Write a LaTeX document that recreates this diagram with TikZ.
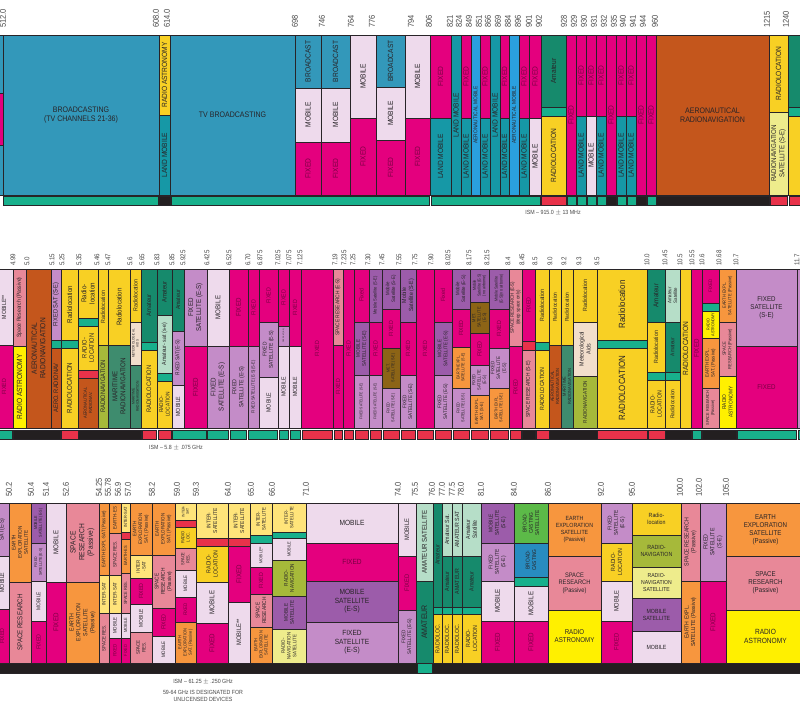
\documentclass[tikz,border=0pt]{standalone}
\usepackage{fontspec}
\setmainfont{Liberation Sans}[FakeStretch=0.88]
\usepackage{tikz}
\definecolor{mydark}{RGB}{40,36,40}
\definecolor{freqgrey}{RGB}{70,70,70}
\definecolor{bcast}{RGB}{51,152,186}
\definecolor{bcastb}{RGB}{40,140,192}
\definecolor{landmob}{RGB}{22,152,166}
\definecolor{aeromob}{RGB}{42,160,222}
\definecolor{fixedc}{RGB}{228,0,126}
\definecolor{fixtext}{RGB}{120,0,66}
\definecolor{mobc}{RGB}{238,218,236}
\definecolor{amateur}{RGB}{22,138,108}
\definecolor{amsat}{RGB}{182,222,200}
\definecolor{radloc}{RGB}{248,208,36}
\definecolor{radastro}{RGB}{255,240,0}
\definecolor{aeronav}{RGB}{196,86,28}
\definecolor{rnsat}{RGB}{238,236,140}
\definecolor{radnav}{RGB}{166,185,58}
\definecolor{marnav}{RGB}{62,140,110}
\definecolor{metaid}{RGB}{242,222,204}
\definecolor{metsat}{RGB}{140,100,22}
\definecolor{fixsat}{RGB}{196,140,200}
\definecolor{mobsat}{RGB}{156,92,170}
\definecolor{spres}{RGB}{232,136,152}
\definecolor{eexp}{RGB}{247,150,62}
\definecolor{intsat}{RGB}{255,228,122}
\definecolor{bsat}{RGB}{92,186,72}
\definecolor{tealbar}{RGB}{24,176,140}
\definecolor{redbar}{RGB}{232,50,74}
\definecolor{blackbar}{RGB}{35,31,32}
\tikzset{
  cell/.style={draw=mydark, line width=0.6pt},
  fs/.style={font=\fontsize{#1}{\fpeval{#1*1.15}}\selectfont},
  vtext/.style={rotate=90, align=center, inner sep=0pt, text=mydark},
  htext/.style={align=center, inner sep=0pt, text=mydark},
  fxt/.style={text=fixtext},
  freq/.style={rotate=90, anchor=west, inner sep=0pt, text=freqgrey},
  ism/.style={inner sep=0pt, text=freqgrey, fs=6, align=center},
  seg/.style={draw=mydark, line width=0.5pt}
}
% cells: x1 y1 x2 y2 colour text
\newcommand{\bandv}[7][]{\draw[cell,fill=#6] (#2,#3) rectangle (#4,#5);
  \node[vtext,#1] at ({(#2+#4)/2},{(#3+#5)/2}) {#7};}
\newcommand{\bandh}[7][]{\draw[cell,fill=#6] (#2,#3) rectangle (#4,#5);
  \node[htext,#1] at ({(#2+#4)/2},{(#3+#5)/2}) {#7};}
\newcommand{\bandbar}[5]{\draw[cell,fill=#5] (#1,#2) rectangle (#3,#4);}
\newcommand{\bandfix}[5][]{\bandv[fxt,#1]{#2}{#3}{#4}{#5}{fixedc}{FIXED}}
\newcommand{\bandlm}[5][]{\bandv[#1]{#2}{#3}{#4}{#5}{landmob}{LAND MOBILE}}
\newcommand{\bandmob}[5][]{\bandv[#1]{#2}{#3}{#4}{#5}{mobc}{MOBILE}}

\begin{document}
\begin{tikzpicture}[x=1pt, y=-1pt]
  \useasboundingbox (0,0) rectangle (800,704);

  % Band 1
  \begin{scope}[fs=7.5]
  \bandbar{-5}{35}{3}{93}{bcast}
  \bandbar{-5}{93}{3}{145}{fixedc}
  \bandbar{-5}{145}{3}{195}{bcast}
  \bandh[fs=8]{3}{35}{159}{195}{bcast}{BROADCASTING\\(TV CHANNELS 21-36)}
  \bandv{159}{35}{170}{115}{radloc}{RADIO ASTRONOMY}
  \bandlm{159}{115}{170}{195}
  \bandh[fs=8]{170}{35}{295}{195}{bcast}{TV BROADCASTING}
  \bandv{295}{35}{321}{88}{bcast}{BROADCAST}
  \bandmob{295}{88}{321}{142}
  \bandfix{295}{142}{321}{195}
  \bandv{321}{35}{350}{88}{bcast}{BROADCAST}
  \bandmob{321}{88}{350}{142}
  \bandfix{321}{142}{350}{195}
  \bandmob{350}{35}{376}{118}
  \bandfix{350}{118}{376}{195}
  \bandv{376}{35}{405}{87}{bcast}{BROADCAST}
  \bandmob{376}{87}{405}{140}
  \bandfix{376}{140}{405}{195}
  \bandmob{405}{35}{430}{118}
  \bandfix{405}{118}{430}{195}
  \bandfix{430}{35}{451}{118}
  \bandlm{430}{118}{451}{195}
  \bandlm{451}{35}{461}{195}
  \bandfix{461}{35}{471}{118}
  \bandlm{461}{118}{471}{195}
  \bandv[fs=5.5]{471}{35}{480}{195}{aeromob}{AERONAUTICAL MOBILE}
  \bandfix{480}{35}{490}{118}
  \bandlm{480}{118}{490}{195}
  \bandlm{490}{35}{500}{195}
  \bandfix{500}{35}{509}{118}
  \bandlm{500}{118}{509}{195}
  \bandv[fs=5.5]{509}{35}{519}{195}{aeromob}{AERONAUTICAL MOBILE}
  \bandfix{519}{35}{529}{118}
  \bandlm{519}{118}{529}{195}
  \bandfix{529}{35}{541}{118}
  \bandmob{529}{118}{541}{195}
  \bandv{541}{35}{566}{107}{amateur}{Amateur}
  \bandbar{541}{107}{566}{116}{tealbar}
  \bandv{541}{116}{566}{195}{radloc}{RADIOLOCATION}
  \bandfix{566}{35}{576}{195}
  \bandfix{576}{35}{586}{116}
  \bandlm{576}{116}{586}{195}
  \bandfix{586}{35}{596}{116}
  \bandmob{586}{116}{596}{195}
  \bandfix{596}{35}{606}{116}
  \bandlm{596}{116}{606}{195}
  \bandfix{606}{35}{616}{195}
  \bandfix{616}{35}{626}{116}
  \bandlm{616}{116}{626}{195}
  \bandfix{626}{35}{636}{116}
  \bandlm{626}{116}{636}{195}
  \bandfix{636}{35}{646}{195}
  \bandfix{646}{35}{656}{195}
  \bandh[fs=8]{656}{35}{769}{195}{aeronav}{AERONAUTICAL\\RADIONAVIGATION}
  \bandv{769}{35}{788}{112}{radloc}{RADIOLOCATION}
  \bandv[fs=7]{769}{112}{788}{195}{rnsat}{RADIONAVIGATION\\SATELLITE (S-E)}
  \bandbar{788}{35}{805}{107}{amateur}
  \bandbar{788}{107}{805}{116}{tealbar}
  \bandbar{788}{116}{805}{195}{radloc}
  \end{scope}

  % Band 2
  \begin{scope}[fs=6]
  \bandv{-5}{269}{13}{345}{mobc}{MOBILE**}
  \bandfix{-5}{345}{13}{428}
  \bandv[fs=5.8]{13}{269}{26}{346}{spres}{Space Research (Passive)}
  \bandv[fs=7.5]{13}{346}{26}{428}{radastro}{RADIO ASTRONOMY}
  \bandv[fs=7.5]{26}{269}{51}{428}{aeronav}{AERONAUTICAL\\RADIONAVIGATION}
  \bandv[fs=6.5]{51}{269}{61}{340}{fixsat}{FIXED SAT (S-E)}
  \bandbar{51}{340}{61}{348}{tealbar}
  \bandv[fs=6.5]{51}{348}{61}{428}{aeronav}{AERO. RADIONAV}
  \bandv[fs=7]{61}{269}{78}{340}{radloc}{Radiolocation}
  \bandbar{61}{340}{78}{348}{tealbar}
  \bandv[fs=7]{61}{348}{78}{428}{radloc}{RADIOLOCATION}
  \bandv[fs=7]{78}{269}{98}{318}{radloc}{Radio-\\location}
  \bandbar{78}{318}{98}{326}{tealbar}
  \bandv[fs=6.5]{78}{326}{98}{370}{radloc}{RADIO-\\LOCATION}
  \bandbar{78}{370}{98}{378}{redbar}
  \bandv[fs=4.5]{78}{378}{98}{428}{aeronav}{AERONAUTICAL\\RADIONAV.}
  \bandv{98}{269}{108}{345}{radloc}{Radiolocation}
  \bandv[fs=6.5]{98}{345}{108}{428}{radnav}{RADIONAVIGATION}
  \bandv[fs=7]{108}{269}{130}{345}{radloc}{Radiolocation}
  \bandv[fs=7]{108}{345}{130}{428}{marnav}{MARITIME\\RADIONAVIGATION}
  \bandv{130}{269}{141}{322}{radloc}{Radiolocation}
  \bandv[fs=3.5]{130}{322}{141}{365}{metaid}{METEOROLOGICAL\\AIDS}
  \bandv[fs=3.8]{130}{365}{141}{428}{marnav}{MARITIME\\RADIONAVIGATION}
  \bandv[fs=6.5]{141}{269}{157}{342}{amateur}{Amateur}
  \bandbar{141}{342}{157}{350}{tealbar}
  \bandv[fs=6.5]{141}{350}{157}{428}{radloc}{RADIOLOCATION}
  \bandv[fs=6.5]{157}{269}{172}{315}{amateur}{Amateur}
  \bandv{157}{315}{172}{373}{amsat}{Amateur- sat (s-e)}
  \bandbar{157}{373}{172}{381}{tealbar}
  \bandv[fs=5.5]{157}{381}{172}{428}{radloc}{RADIO-\\LOCATION}
  \bandv{172}{269}{184}{331}{amateur}{Amateur}
  \bandv[fs=5.5]{172}{331}{184}{385}{fixsat}{FIXED SAT(E-S)}
  \bandmob{172}{385}{184}{428}
  \bandv[fs=7]{184}{269}{207}{346}{fixsat}{FIXED\\SATELLITE (E-S)}
  \bandfix[fs=7]{184}{346}{207}{428}
  \bandmob[fs=7]{207}{269}{229}{346}
  \bandv[fs=7]{207}{346}{229}{428}{fixsat}{FIXED\\SATELLITE (E-S)}
  \bandfix[fs=7]{229}{269}{248}{346}
  \bandv[fs=6]{229}{346}{248}{428}{fixsat}{FIXED\\SATELLITE (E-S)}
  \bandfix{248}{269}{259}{346}
  \bandv[fs=4.5]{248}{346}{259}{428}{fixsat}{FIXED SATELLITE (E-S)(S-E)}
  \bandfix{259}{269}{278}{322}
  \bandv[fs=5.5]{259}{322}{278}{377}{fixsat}{FIXED\\SATELLITE (E-S)}
  \bandmob{259}{377}{278}{428}
  \bandfix{278}{269}{289}{326}
  \bandv[fs=2]{278}{326}{289}{346}{fixsat}{FIXED SAT (E-S)}
  \bandmob{278}{346}{289}{428}
  \bandfix{289}{269}{301}{346}
  \bandmob{289}{346}{301}{428}
  \bandfix{301}{269}{333}{428}
  \bandv[fs=5.5]{333}{269}{343}{345}{spres}{SPACE RESEARCH (E-S)}
  \bandfix{333}{345}{343}{428}
  \bandfix{343}{269}{354}{428}
  \bandv[fxt]{354}{269}{369}{322}{fixedc}{Fixed}
  \bandv[fs=5.2]{354}{322}{369}{375}{mobsat}{MOBILE\\SATELLITE (S-E)}
  \bandv[fs=3.8]{354}{375}{369}{428}{fixsat}{FIXED SATELLITE (S-E)}
  \bandv[fs=4.6]{369}{269}{382}{322}{mobsat}{Mobile Satellite (S-E)}
  \bandfix{369}{322}{382}{375}
  \bandv[fs=3.8]{369}{375}{382}{428}{fixsat}{FIXED SATELLITE (S-E)}
  \bandv[fs=5]{382}{269}{400}{309}{mobsat}{Mobile\\Satellite (S-E)}
  \bandfix{382}{309}{400}{348}
  \bandv[fs=4.2]{382}{348}{400}{388}{metsat}{MET.\\SATELLITE (S-E)}
  \bandv[fs=4.2]{382}{388}{400}{428}{fixsat}{FIXED\\SATELLITE (S-E)}
  \bandv{400}{269}{416}{322}{mobsat}{Mobile\\Satellite (S-E)}
  \bandfix{400}{322}{416}{375}
  \bandv[fs=5.2]{400}{375}{416}{428}{fixsat}{FIXED\\SATELLITE (S-E)}
  \bandfix{416}{269}{434}{428}
  \bandv[fxt]{434}{269}{452}{322}{fixedc}{Fixed}
  \bandv[fs=5.2]{434}{322}{452}{375}{mobsat}{MOBILE\\SATELLITE (E-S)}
  \bandv[fs=5.2]{434}{375}{452}{428}{fixsat}{FIXED\\SATELLITE (E-S)}
  \bandv[fs=5]{452}{269}{470}{309}{mobsat}{Mobile\\Satellite (E-S)}
  \bandfix{452}{309}{470}{347}
  \bandv[fs=4.2]{452}{347}{470}{388}{eexp}{EARTH EXPL.\\SATELLITE (S-E)}
  \bandv[fs=4.2]{452}{388}{470}{428}{fixsat}{FIXED\\SATELLITE (E-S)}
  \bandv[fs=4.2]{470}{269}{489}{302}{mobsat}{Mobile\\Satellite (E-S)\\(no airborne)}
  \bandv[fs=4.5]{470}{302}{489}{333}{metsat}{MET.\\SATELLITE\\(E-S)}
  \bandfix{470}{333}{489}{365}
  \bandv[fs=4.5]{470}{365}{489}{395}{fixsat}{FIXED\\SATELLITE\\(E-S)}
  \bandv[fs=4.5]{470}{395}{489}{428}{eexp}{EARTH EXPL.\\SAT. (S-E)}
  \bandv[fs=4.2]{489}{269}{509}{309}{mobsat}{Mobile Satellite\\(E-S)(no airborne)}
  \bandfix{489}{309}{509}{348}
  \bandv[fs=5]{489}{348}{509}{388}{fixsat}{FIXED\\SATELLITE\\(E-S)}
  \bandv[fs=4.2]{489}{388}{509}{428}{eexp}{EARTH EXPL.\\SATELLITE (S-E)}
  \bandv[fs=5]{509}{269}{522}{346}{spres}{SPACE RESEARCH (E-S)\\(deep space only)}
  \bandfix{509}{346}{522}{428}
  \bandfix{522}{269}{535}{341}
  \bandbar{522}{341}{535}{350}{redbar}
  \bandv[fs=5.5]{522}{350}{535}{428}{spres}{SPACE RESEARCH (S-E)}
  \bandv{535}{269}{549}{342}{radloc}{Radiolocation}
  \bandbar{535}{342}{549}{350}{tealbar}
  \bandv{535}{350}{549}{428}{radloc}{RADIOLOCATION}
  \bandv[fs=5.5]{549}{269}{561}{345}{radloc}{Radiolocation}
  \bandv[fs=4.5]{549}{345}{561}{428}{aeronav}{AERONAUTICAL\\RADIONAVIGATION}
  \bandv[fs=5.5]{561}{269}{573}{345}{radloc}{Radiolocation}
  \bandv[fs=4.5]{561}{345}{573}{428}{marnav}{MARITIME\\RADIONAVIGATION}
  \bandv{573}{269}{597}{322}{radloc}{Radiolocation}
  \bandv{573}{322}{597}{376}{metaid}{Meteorological\\Aids}
  \bandv[fs=5.2]{573}{376}{597}{428}{radnav}{RADIONAVIGATION}
  \bandv[fs=9]{597}{269}{647}{340}{radloc}{Radiolocation}
  \bandbar{597}{340}{647}{348}{tealbar}
  \bandv[fs=9]{597}{348}{647}{428}{radloc}{RADIOLOCATION}
  \bandv[fs=7]{647}{269}{665}{322}{amateur}{Amateur}
  \bandv{647}{322}{665}{372}{radloc}{Radiolocation}
  \bandbar{647}{372}{665}{380}{tealbar}
  \bandv{647}{380}{665}{428}{radloc}{RADIO-\\LOCATION}
  \bandv[fs=5]{665}{269}{680}{322}{amsat}{Amateur\\Satellite}
  \bandv[fs=5.5]{665}{322}{680}{372}{amateur}{Amateur}
  \bandbar{665}{372}{680}{380}{tealbar}
  \bandv[fs=5.5]{665}{380}{680}{428}{radloc}{Radiolocation}
  \bandv[fs=7.5]{680}{269}{691}{428}{radloc}{RADIOLOCATION}
  \bandfix[fs=7]{691}{269}{702}{428}
  \bandfix[fs=5]{702}{269}{719}{303}
  \bandbar{702}{303}{719}{311}{tealbar}
  \bandv[fs=4.2]{702}{311}{719}{338}{radastro}{RADIO\\ASTRONOMY}
  \bandv[fs=5]{702}{338}{719}{388}{eexp}{EARTH EXPL.\\SAT. (Passive)}
  \bandv[fs=4.3]{702}{388}{719}{428}{spres}{SPACE RESEARCH\\(Passive)}
  \bandv[fs=4.6]{719}{269}{736}{322}{eexp}{EARTH EXPL.\\SATELLITE (Passive)}
  \bandv[fs=4.6]{719}{322}{736}{376}{spres}{SPACE\\RESEARCH (Passive)}
  \bandv[fs=5.5]{719}{376}{736}{428}{radastro}{RADIO\\ASTRONOMY}
  \bandh[fs=7]{736}{269}{797}{346}{fixsat}{FIXED\\SATELLITE\\(S-E)}
  \bandh[fxt,fs=7]{736}{346}{797}{428}{fixedc}{FIXED}
  \bandbar{797}{269}{805}{428}{fixsat}
  \end{scope}

  % Band 3
  \begin{scope}[fs=6]
  \bandv{-5}{503}{9}{556}{fixsat}{SAT(E-S)}
  \bandmob{-5}{556}{9}{609}
  \bandfix{-5}{609}{9}{663}
  \bandv[fs=5.3]{9}{503}{31}{582}{eexp}{EARTH\\EXPLORATION\\SATELLITE}
  \bandv[fs=7]{9}{582}{31}{663}{spres}{SPACE RESEARCH}
  \bandv[fs=4.2]{31}{503}{46}{543}{mobsat}{MOBILE\\SATELLITE (E-S)}
  \bandv[fs=4]{31}{543}{46}{581}{fixsat}{FIXED\\SATELLITE (E-S)}
  \bandmob[fs=5.5]{31}{581}{46}{621}
  \bandfix{31}{621}{46}{663}
  \bandmob[fs=7]{46}{503}{66}{582}
  \bandfix[fs=7]{46}{582}{66}{663}
  \bandv[fs=7.5]{66}{503}{99}{582}{spres}{SPACE\\RESEARCH\\(Passive)}
  \bandv{66}{582}{99}{663}{eexp}{EARTH\\EXPLORATION\\SATELLITE\\(Passive)}
  \bandv[fs=5]{99}{503}{109}{575}{eexp}{EARTH EXPL-SAT (Passive)}
  \bandv[fs=5]{99}{575}{109}{613}{intsat}{INTER-SAT}
  \bandv[fs=5]{99}{613}{109}{663}{spres}{SPACE RES.}
  \bandv[fs=5]{109}{503}{121}{533}{eexp}{EARTH-ES}
  \bandv[fs=5]{109}{533}{121}{575}{spres}{SPACE RES.}
  \bandv[fs=5]{109}{575}{121}{613}{intsat}{INTER-SAT}
  \bandmob[fs=5]{109}{613}{121}{638}
  \bandfix[fs=5]{109}{638}{121}{663}
  \bandv[fs=4.5]{121}{503}{130}{532}{intsat}{INTER-SAT}
  \bandbar{121}{532}{130}{539}{redbar}
  \bandv[fs=4.5]{121}{539}{130}{573}{eexp}{EARTH-ES}
  \bandv[fs=4.5]{121}{573}{130}{613}{spres}{SPACE RES.}
  \bandmob[fs=4.5]{121}{613}{130}{638}
  \bandfix[fs=4.5]{121}{638}{130}{663}
  \bandv[fs=5]{130}{503}{152}{555}{eexp}{EARTH\\EXPLORATION\\SAT. (Passive)}
  \bandv[fs=5]{130}{555}{152}{578}{intsat}{INTER\\-SAT}
  \bandfix{130}{578}{152}{604}
  \bandmob[fs=5.5]{130}{604}{152}{632}
  \bandv[fs=5]{130}{632}{152}{663}{spres}{SPACE\\RES.}
  \bandv[fs=5]{152}{503}{175}{555}{eexp}{EARTH\\EXPLORATION\\SAT. (Passive)}
  \bandv[fs=5.5]{152}{555}{175}{608}{spres}{SPACE\\RESEARCH\\(Passive)}
  \bandfix{152}{608}{175}{636}
  \bandmob[fs=5]{152}{636}{175}{663}
  \bandv[fs=3.8]{175}{503}{196}{520}{intsat}{INTER-\\SAT}
  \bandbar{175}{520}{196}{527}{redbar}
  \bandv[fs=4.5]{175}{527}{196}{548}{radloc}{RADIO\\LOC.}
  \bandv[fs=4.5]{175}{548}{196}{570}{spres}{SPACE\\RES.}
  \bandmob[fs=5]{175}{570}{196}{597}
  \bandfix[fs=5]{175}{597}{196}{622}
  \bandv[fs=4.5]{175}{622}{196}{663}{eexp}{EARTH\\EXPLORATION\\SAT. (Passive)}
  \bandv[fs=5.5]{196}{503}{228}{538}{intsat}{INTER-\\SATELLITE}
  \bandbar{196}{538}{228}{546}{redbar}
  \bandv{196}{546}{228}{582}{radloc}{RADIO-\\LOCATION}
  \bandmob[fs=7]{196}{582}{228}{623}
  \bandfix[fs=7]{196}{623}{228}{663}
  \bandv[fs=5.5]{228}{503}{250}{538}{intsat}{INTER-\\SATELLITE}
  \bandbar{228}{538}{250}{546}{redbar}
  \bandfix[fs=7]{228}{546}{250}{602}
  \bandv[fs=6.5]{228}{602}{250}{663}{mobc}{MOBILE**}
  \bandv[fs=5]{250}{503}{272}{535}{intsat}{INTER-\\SATELLITE}
  \bandbar{250}{535}{272}{543}{tealbar}
  \bandv[fs=4.2]{250}{543}{272}{567}{mobc}{MOBILE**}
  \bandfix{250}{567}{272}{594}
  \bandv[fs=5.5]{250}{594}{272}{627}{spres}{SPACE\\RESEARCH}
  \bandv[fs=4.5]{250}{627}{272}{663}{eexp}{EARTH\\EXPLORATION\\SATELLITE}
  \bandv[fs=4.8]{272}{503}{306}{532}{intsat}{INTER-\\SATELLITE}
  \bandbar{272}{532}{306}{538}{tealbar}
  \bandmob[fs=4.5]{272}{538}{306}{560}
  \bandv[fs=5.3]{272}{560}{306}{596}{radnav}{RADIO-\\NAVIGATION}
  \bandv[fs=5.3]{272}{596}{306}{629}{mobsat}{MOBILE\\SATELLITE}
  \bandv[fs=5]{272}{629}{306}{663}{rnsat}{RADIO-\\NAVIGATION\\SATELLITE}
  \bandh[fs=7.5]{306}{503}{398}{543}{mobc}{MOBILE}
  \bandh[fxt,fs=7.5]{306}{543}{398}{581}{fixedc}{FIXED}
  \bandh[fs=7.5]{306}{581}{398}{622}{mobsat}{MOBILE\\SATELLITE\\(E-S)}
  \bandh[fs=7.5]{306}{622}{398}{663}{fixsat}{FIXED\\SATELLITE\\(E-S)}
  \bandmob[fs=6.5]{398}{503}{416}{556}
  \bandfix[fs=6.5]{398}{556}{416}{610}
  \bandv[fs=5.2]{398}{610}{416}{663}{fixsat}{FIXED\\SATELLITE (E-S)}
  \bandv[fs=7]{416}{503}{433}{581}{amsat}{AMATEUR SATELLITE}
  \bandv[fs=8]{416}{581}{433}{663}{amateur}{AMATEUR}
  \bandv{433}{503}{442}{607}{amateur}{Amateur}
  \bandbar{433}{607}{442}{614}{tealbar}
  \bandv{433}{614}{442}{663}{radloc}{RADIOLOC.}
  \bandv{442}{503}{452}{556}{amsat}{Amateur Sat.}
  \bandv{442}{556}{452}{607}{amateur}{Amateur}
  \bandbar{442}{607}{452}{614}{tealbar}
  \bandv{442}{614}{452}{663}{radloc}{RADIOLOC.}
  \bandv{452}{503}{462}{556}{amsat}{AMATEUR SAT}
  \bandv{452}{556}{462}{607}{amateur}{AMATEUR}
  \bandbar{452}{607}{462}{614}{tealbar}
  \bandv{452}{614}{462}{663}{radloc}{RADIOLOC.}
  \bandv{462}{503}{481}{556}{amsat}{Amateur\\Satellite}
  \bandv{462}{556}{481}{607}{amateur}{Amateur}
  \bandbar{462}{607}{481}{614}{tealbar}
  \bandv{462}{614}{481}{663}{radloc}{RADIO-\\LOCATION}
  \bandv[fs=5.5]{481}{503}{514}{543}{mobsat}{MOBILE\\SATELLITE\\(S-E)}
  \bandv[fs=5.5]{481}{543}{514}{581}{fixsat}{FIXED\\SATELLITE\\(S-E)}
  \bandmob[fs=7]{481}{581}{514}{621}
  \bandfix[fs=7]{481}{621}{514}{663}
  \bandv[fs=5.5]{514}{503}{548}{543}{bsat}{BROAD-\\CASTING\\SATELLITE}
  \bandv[fs=5.5]{514}{543}{548}{577}{bcastb}{BROAD-\\CASTING}
  \bandbar{514}{577}{548}{586}{tealbar}
  \bandmob[fs=7]{514}{586}{548}{621}
  \bandfix[fs=7]{514}{621}{548}{663}
  \bandh{548}{503}{601}{556}{eexp}{EARTH\\EXPLORATION\\SATELLITE\\(Passive)}
  \bandh[fs=6.5]{548}{556}{601}{610}{spres}{SPACE\\RESEARCH\\(Passive)}
  \bandh[fs=7]{548}{610}{601}{663}{radastro}{RADIO\\ASTRONOMY}
  \bandv[fs=5.5]{601}{503}{632}{543}{fixsat}{FIXED\\SATELLITE\\(E-S)}
  \bandv{601}{543}{632}{581}{radloc}{RADIO-\\LOCATION}
  \bandmob[fs=6.5]{601}{581}{632}{621}
  \bandfix[fs=6.5]{601}{621}{632}{663}
  \bandh{632}{503}{681}{535}{radloc}{Radio-\\location}
  \bandh{632}{535}{681}{567}{radnav}{RADIO-\\NAVIGATION}
  \bandh[fs=5.8]{632}{567}{681}{598}{rnsat}{RADIO-\\NAVIGATION\\SATELLITE}
  \bandh{632}{598}{681}{631}{mobsat}{MOBILE\\SATELLITE}
  \bandh{632}{631}{681}{663}{mobc}{MOBILE}
  \bandv{681}{503}{700}{581}{spres}{SPACE RESEARCH\\(Passive)}
  \bandv[fs=5.8]{681}{581}{700}{663}{eexp}{EARTH EXPL.\\SATELLITE (Passive)}
  \bandv{700}{503}{726}{581}{fixsat}{FIXED\\SATELLITE\\(S-E)}
  \bandfix[fs=7]{700}{581}{726}{663}
  \bandh[fs=7]{726}{503}{805}{556}{eexp}{EARTH\\EXPLORATION\\SATELLITE\\(Passive)}
  \bandh[fs=7]{726}{556}{805}{610}{spres}{SPACE\\RESEARCH\\(Passive)}
  \bandh[fs=7.5]{726}{610}{805}{663}{radastro}{RADIO\\ASTRONOMY}
  \end{scope}

  % Status bars
  \foreach \xa/\xb/\col in {3/158/tealbar, 159/170/blackbar, 171/429/tealbar,
      431/540/tealbar, 541/566/redbar, 567/576/tealbar, 577/586/tealbar,
      587/596/tealbar, 597/606/tealbar, 606/616/blackbar, 617/626/tealbar,
      627/636/tealbar, 636/646/blackbar, 647/656/tealbar, 656/769/blackbar,
      770/787/redbar, 789/805/redbar}
    \draw[seg, fill=\col] (\xa,196) rectangle (\xb,205);
  \foreach \xa/\xb/\col in {-5/12/tealbar, 13/60/blackbar, 61/78/redbar,
      78/141/blackbar, 142/156/redbar, 158/171/redbar, 172/206/tealbar,
      207/228/tealbar, 230/246/tealbar, 248/277/tealbar, 279/288/tealbar,
      290/300/tealbar, 302/332/redbar, 334/342/redbar, 344/353/redbar,
      355/368/redbar, 370/381/redbar, 383/399/redbar, 401/415/redbar,
      417/433/redbar, 435/451/redbar, 453/469/redbar, 471/488/redbar,
      490/508/redbar, 510/521/redbar, 522/535/blackbar, 536/549/redbar,
      549/597/blackbar, 597/647/redbar, 648/665/redbar, 665/691/blackbar,
      692/701/tealbar, 702/736/blackbar, 737/796/tealbar, 798/805/tealbar}
    \draw[seg, fill=\col] (\xa,430) rectangle (\xb,439);
  \draw[seg, fill=blackbar] (-5,663) rectangle (805,673);
  \draw[seg, fill=tealbar] (417,663) rectangle (432,673);

  % Frequency labels
  \foreach \x/\lbl in {3/512.0, 156/608.0, 167/614.0, 295/698, 322/746,
      351/764, 372/776, 411/794, 429/806, 450/821, 459/824, 469/849, 479/851,
      488/866, 498/869, 508/884, 518/896, 529/901, 539/902, 564/928, 574/929,
      584/930, 594/931, 604/932, 614/935, 623/940, 633/941, 643/944, 655/960,
      767/1215, 786/1240}
    \node[freq, fs=8.5] at (\x,28) {\lbl};
  \foreach \x/\lbl in {13/4.99, 27/5.0, 52/5.15, 62/5.25, 79/5.35, 97/5.46,
      108/5.47, 130/5.6, 142/5.65, 157/5.83, 172/5.85, 183/5.925, 207/6.425,
      229/6.525, 248/6.70, 260/6.875, 278/7.025, 289/7.075, 300/7.125,
      335/7.19, 344/7.235, 353/7.25, 368/7.30, 382/7.45, 399/7.55, 415/7.75,
      431/7.90, 448/8.025, 469/8.175, 487/8.215, 508/8.4, 522/8.45, 535/8.5,
      550/9.0, 564/9.2, 579/9.3, 597/9.5, 647/10.0, 665/10.45, 680/10.5,
      692/10.55, 702/10.6, 719/10.68, 736/10.7, 797/11.7}
    \node[freq, fs=7] at (\x,266) {\lbl};
  \foreach \x/\lbl in {9/50.2, 31/50.4, 46/51.4, 66/52.6, 99/54.25,
      108/55.78, 118/56.9, 128/57.0, 152/58.2, 177/59.0, 196/59.3, 228/64.0,
      251/65.0, 272/66.0, 306/71.0, 398/74.0, 415/75.5, 432/76.0, 442/77.0,
      452/77.5, 461/78.0, 481/81.0, 514/84.0, 548/86.0, 601/92.0, 632/95.0,
      680/100.0, 699/102.0, 726/105.0}
    \node[freq, fs=8.5] at (\x,497) {\lbl};

  % ISM notes
  \node[ism] (ism1) at (553,213) {ISM -- 915.0 $\pm$ 13 MHz};
  \node[ism] (ism2) at (176,448) {ISM -- 5.8 $\pm$ .075 GHz};
  \node[ism] (ism3) at (203,682) {ISM -- 61.25 $\pm$ .250 GHz};
  \node[ism] (unlic) at (203,696) {59-64 GHz IS DESIGNATED FOR\\UNLICENSED DEVICES};
\end{tikzpicture}
\end{document}
